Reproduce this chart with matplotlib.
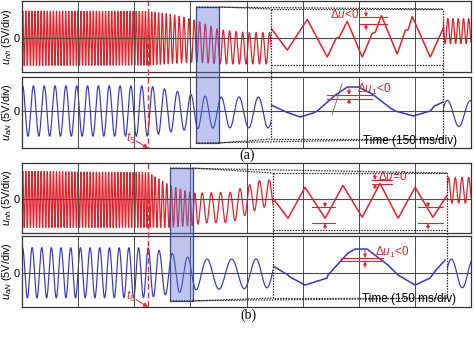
import numpy as np
import matplotlib
matplotlib.use("Agg")
import matplotlib.pyplot as plt
import matplotlib.transforms as mtransforms
from matplotlib.patches import Rectangle, FancyArrowPatch
from matplotlib.lines import Line2D

plt.rcParams['font.family'] = ['Liberation Sans', 'DejaVu Sans']
plt.rcParams['mathtext.fontset'] = 'custom'
plt.rcParams['mathtext.rm'] = 'Liberation Sans'
plt.rcParams['mathtext.it'] = 'Liberation Sans:italic'
plt.rcParams['mathtext.bf'] = 'Liberation Sans:bold'

RED = '#e3232b'
BLUE = '#3737c4'
GRID = '#4a4a4a'
FRAME = '#333333'
SHADE = '#5c70d6'
DOT = '#2a2a2a'
MARK = '#d8343c'

DIV_MS = 150          # time base: ms per division
N_DIV = 8

# ---------------- case (a): transition at t5 ----------------
T5 = 337
ZOOM_A = (465, 527)                 # magnified time window, ms
A_T      = [0, 337, 400, 465, 527, 600, 666, 1126, 1200]
A_NH_AMP = [3.8, 3.75, 3.45, 2.9, 2.4, 2.2, 2.2, 1.75, 1.75]
A_NH_PER = [8.2, 8.2, 11.5, 14.5, 16.5, 18, 18, 14, 14]
A_NH_OFF = [0, 0, -0.1, -0.4, -1.2, -1.4, -1.4, 1.0, 1.0]
A_AN_AMP = [3.5, 3.5, 2.9, 2.3, 2.15, 2.15, 2.15, 1.8, 1.8]
A_AN_PER = [28.9, 29, 35, 37, 45, 52, 52, 61, 61]
A_AN_OFF = [0, 0, 0, -0.15, -0.2, -0.2, -0.2, -0.35, -0.35]

# magnified traces inside the window (ms, V)
A_NH_ZOOM_T = [465.0, 470.8, 477.3, 478.0, 485.2, 488.4, 489.5, 492.4, 497.8,
               501.4, 502.5, 504.7, 510.4, 513.3, 514.4, 515.8, 522.3, 527.0]
A_NH_ZOOM_V = [1.39, -1.67, 2.22, 2.64, -2.64, 0.0, 0.14, 2.36, -2.64,
               0.69, 0.83, 3.19, -2.22, 1.11, 1.25, 3.06, -2.64, 1.39]
A_AN_ZOOM_T = [465.0, 470.4, 475.5, 480.1, 481.6, 488.1, 492.4, 496.4, 501.4,
               507.9, 509.7, 516.2, 522.3, 523.8, 527.0]
A_AN_ZOOM_V = [0.83, -0.14, -0.83, -0.28, 0.0, 2.22, 3.33, 3.33, 2.36,
               0.42, 0.0, -0.69, 0.0, 0.69, 1.25]

# ---------------- case (b): transition at t6 ----------------
T6 = 337
ZOOM_B = (395.8, 457.3)
B_T      = [0, 337, 396, 457, 480, 560, 640, 671, 1136, 1200]
B_NH_AMP = [3.9, 3.8, 2.9, 2.25, 2.1, 2.1, 1.9, 1.9, 1.8, 1.8]
B_NH_PER = [8.2, 8.2, 12, 13, 24, 26, 26, 26, 18, 18]
B_NH_OFF = [0, -0.1, -1.0, -1.4, -1.2, -1.1, 0.8, 0.8, 1.25, 1.25]
B_AN_AMP = [3.5, 3.45, 2.85, 2.2, 2.1, 2.1, 2.0, 2.0, 2.0, 2.0]
B_AN_PER = [25.7, 26, 38, 45, 60, 70, 58, 58, 58, 58]
B_AN_OFF = [0, 0, -0.1, -0.2, -0.2, -0.2, -0.1, -0.1, -0.1, -0.1]

B_NH_ZOOM_T = [395.8, 401.1, 407.1, 414.2, 420.5, 427.3, 433.6, 440.0, 446.0, 452.3, 457.3]
B_NH_ZOOM_V = [0.14, -2.64, 1.67, -2.64, 1.94, -2.5, 2.22, -2.64, 1.67, -2.5, 0.56]
B_AN_ZOOM_T = [395.8, 401.1, 401.8, 407.1, 414.9, 415.2, 422.3, 424.8, 429.0,
               436.4, 440.0, 446.0, 451.3, 453.1, 456.6]
B_AN_ZOOM_V = [0.93, -0.32, -0.6, -1.71, -0.74, -0.32, 2.74, 3.29, 3.29,
               1.07, -0.32, -1.71, -0.74, 0.24, 1.76]

# ---------------- figure ----------------
W, H = 474, 348
fig = plt.figure(figsize=(W / 100, H / 100), dpi=100)
fig.patch.set_facecolor('white')
# pixel coordinates measured from the top-left corner
PX = mtransforms.Affine2D().scale(1 / W, -1 / H).translate(0, 1) + fig.transFigure

t = np.arange(0, N_DIV * DIV_MS + 0.05, 0.1)


def trace(knots, amp, per, off, phase0=0.0):
    a = np.interp(t, knots, amp)
    p = np.interp(t, knots, per)
    o = np.interp(t, knots, off)
    ph = phase0 + 2 * np.pi * np.cumsum(np.gradient(t) / p)
    return o + a * np.sin(ph)


def panel(y0, y1, ylim, label):
    ax = fig.add_axes([22 / W, 1 - y1 / H, 449 / W, (y1 - y0) / H])
    ax.set_xlim(0, N_DIV * DIV_MS)
    ax.set_ylim(*ylim)
    ax.set_facecolor('none')
    ax.set_xticks([])
    ax.set_yticks([0])
    ax.set_yticklabels(['0'], fontsize=8)
    ax.tick_params(axis='y', length=0, pad=1.5)
    for s in ax.spines.values():
        s.set_color(FRAME)
        s.set_linewidth(0.9)
    for k in range(1, N_DIV):
        ax.axvline(k * DIV_MS, color=GRID, lw=0.7, zorder=1.5)
    ax.axhline(0, color=GRID, lw=0.8, zorder=1.5)
    ax.set_ylabel(label, fontsize=7.8, va='center')
    ax.yaxis.set_label_coords(-0.033, 0.5)
    return ax


def zoom_inset(ax, box_ms, window, tz, vz, color):
    ax.axvspan(box_ms[0], box_ms[1], color='white', lw=0, zorder=1.2)
    y0, y1 = ax.get_ylim()
    ins = ax.inset_axes([box_ms[0], y0, box_ms[1] - box_ms[0], y1 - y0],
                        transform=ax.transData)
    ins.set_xlim(*window)
    ins.set_ylim(y0, y1)
    ins.axis('off')
    ins.plot(tz, vz, color=color, lw=1.1, solid_joinstyle='miter')
    return ins


def fig_line(xs, ys, tr, **kw):
    fig.add_artist(Line2D(xs, ys, transform=tr, **kw))


def fig_arrow(p_from, p_to, color=RED, scale=5, lw=0.7):
    fig.add_artist(FancyArrowPatch(p_from, p_to, transform=PX,
                                   arrowstyle='-|>', mutation_scale=scale,
                                   color=color, lw=lw, shrinkA=0, shrinkB=0,
                                   zorder=20))


def zoom_marks(ax_top, window, box_ms, shade_y, box_y, mid_y):
    tr = mtransforms.blended_transform_factory(ax_top.transData, PX)
    w0, w1 = window
    fig.add_artist(Rectangle((w0, shade_y[0]), w1 - w0, shade_y[1] - shade_y[0],
                             transform=tr, fc=SHADE, alpha=0.4, lw=0, zorder=10))
    fig.add_artist(Rectangle((w0, shade_y[0]), w1 - w0, shade_y[1] - shade_y[0],
                             transform=tr, fc='none', ec='#3a4a8c', lw=0.9, zorder=11))
    dot = dict(color=DOT, lw=0.9, ls=(0, (1.2, 1.0)), zorder=12)
    b0, b1 = box_ms
    fig_line([b0, b1, b1, b0, b0], [box_y[0], box_y[0], box_y[1], box_y[1], box_y[0]], tr, **dot)
    fig_line([b0, b1], [mid_y, mid_y], tr, **dot)
    fig_line([w0, b1], [shade_y[0], box_y[0]], tr, **dot)
    fig_line([w1, b0], [shade_y[0], box_y[0]], tr, **dot)
    fig_line([w0, b1], [shade_y[1], box_y[1]], tr, **dot)
    fig_line([w1, b0], [shade_y[1], box_y[1]], tr, **dot)


def step_marker(ax_top, ax_bottom, t_ms, y_top, text, text_px):
    y_bot = ax_bottom.get_position().y0
    tr_b = mtransforms.blended_transform_factory(ax_top.transData, fig.transFigure)
    fig_line([t_ms, t_ms], [1 - y_top / H, y_bot], tr_b, color=MARK, lw=1.0,
             ls=(0, (4, 2.2)), zorder=13)
    fig.text(text_px[0], text_px[1], text, transform=PX, color=MARK,
             fontsize=9, ha='center', va='center', zorder=20)
    tip = tr_b.transform((t_ms, y_bot))
    tail = PX.transform((text_px[0] + 5, text_px[1] + 3))
    fig.add_artist(FancyArrowPatch(tuple(tail), tuple(tip), transform=None,
                                   arrowstyle='-|>', mutation_scale=6, color=MARK,
                                   lw=0.8, shrinkA=0, shrinkB=0, zorder=20))


def texts(time_px, tag_px, tag):
    fig.text(time_px[0], time_px[1], 'Time (150 ms/div)', transform=PX,
             fontsize=8.5, ha='left', va='center', zorder=20)
    fig.text(tag_px[0], tag_px[1], tag, transform=PX, fontsize=10,
             family=['Liberation Serif', 'DejaVu Serif'], ha='center', va='center')


def delta_label(text, text_px, x_span, levels, arrow_x, gaps=(6, 6)):
    if text:
        fig.text(text_px[0], text_px[1], text, transform=PX, color=RED,
                 fontsize=8.5, ha='left', va='center', zorder=20)
    for lv in levels:
        fig_line(list(x_span), [lv, lv], PX, color=RED, lw=0.8, zorder=19)
    fig_arrow((arrow_x, levels[0] - gaps[0]), (arrow_x, levels[0]))
    fig_arrow((arrow_x, levels[1] + gaps[1]), (arrow_x, levels[1]))


# ---- (a) ----
ax_a1 = panel(0.5, 72, (-4.72, 5.28), r'$u_{nh}$ (5V/div)')
ax_a2 = panel(77, 148, (-5.14, 4.72), r'$u_{aN}$ (5V/div)')
ax_a1.plot(t, trace(A_T, A_NH_AMP, A_NH_PER, A_NH_OFF), color=RED, lw=0.9, zorder=1)
ax_a2.plot(t, trace(A_T, A_AN_AMP, A_AN_PER, A_AN_OFF, 1.2), color=BLUE, lw=0.85, zorder=1)
BOX_A = (666, 1126)
zoom_inset(ax_a1, BOX_A, ZOOM_A, A_NH_ZOOM_T, A_NH_ZOOM_V, RED)
zoom_inset(ax_a2, BOX_A, ZOOM_A, A_AN_ZOOM_T, A_AN_ZOOM_V, BLUE)
zoom_marks(ax_a1, ZOOM_A, BOX_A, (7, 143), (9, 139), 65)
step_marker(ax_a1, ax_a2, T5, 0, r'$t_5$', (131, 138))
texts((363, 141), (247, 155), '(a)')
delta_label(r'$\Delta u$<0', (330, 14), (360, 387), (17, 24), 366)
delta_label(r'$\Delta u_1$<0', (357, 89), (327, 372), (94.7, 98.7), 349, (6, 5))
fig_line([342, 332], [84, 115], PX, color='#666666', lw=0.6, zorder=19)

# ---- (b) ----
ax_b1 = panel(163, 233, (-4.68, 5.04), r'$u_{nh}$ (5V/div)')
ax_b2 = panel(236, 307, (-4.76, 5.10), r'$u_{aN}$ (5V/div)')
ax_b1.plot(t, trace(B_T, B_NH_AMP, B_NH_PER, B_NH_OFF), color=RED, lw=0.9, zorder=1)
ax_b2.plot(t, trace(B_T, B_AN_AMP, B_AN_PER, B_AN_OFF, 1.2), color=BLUE, lw=0.85, zorder=1)
BOX_B = (671, 1136)
zoom_inset(ax_b1, BOX_B, ZOOM_B, B_NH_ZOOM_T, B_NH_ZOOM_V, RED)
zoom_inset(ax_b2, BOX_B, ZOOM_B, B_AN_ZOOM_T, B_AN_ZOOM_V, BLUE)
zoom_marks(ax_b1, ZOOM_B, BOX_B, (168, 301), (173, 298), 230)
step_marker(ax_b1, ax_b2, T6, 163, r'$t_6$', (131, 296.5))
texts((362, 299), (248, 315), '(b)')
delta_label(r'$\Delta u$=0', (378, 177), (372, 392), (180, 183.5), 375, (7, 5.5))
delta_label('', (0, 0), (312, 335), (207.3, 223.3), 325, (5, 5.5))
delta_label('', (0, 0), (418, 443), (207.3, 223.3), 428, (5, 5.5))
delta_label(r'$\Delta u_1$<0', (375, 252), (341, 383), (258, 261.3), 365, (8, 6.5))

fig.savefig('out.png', dpi=100, facecolor='white')
